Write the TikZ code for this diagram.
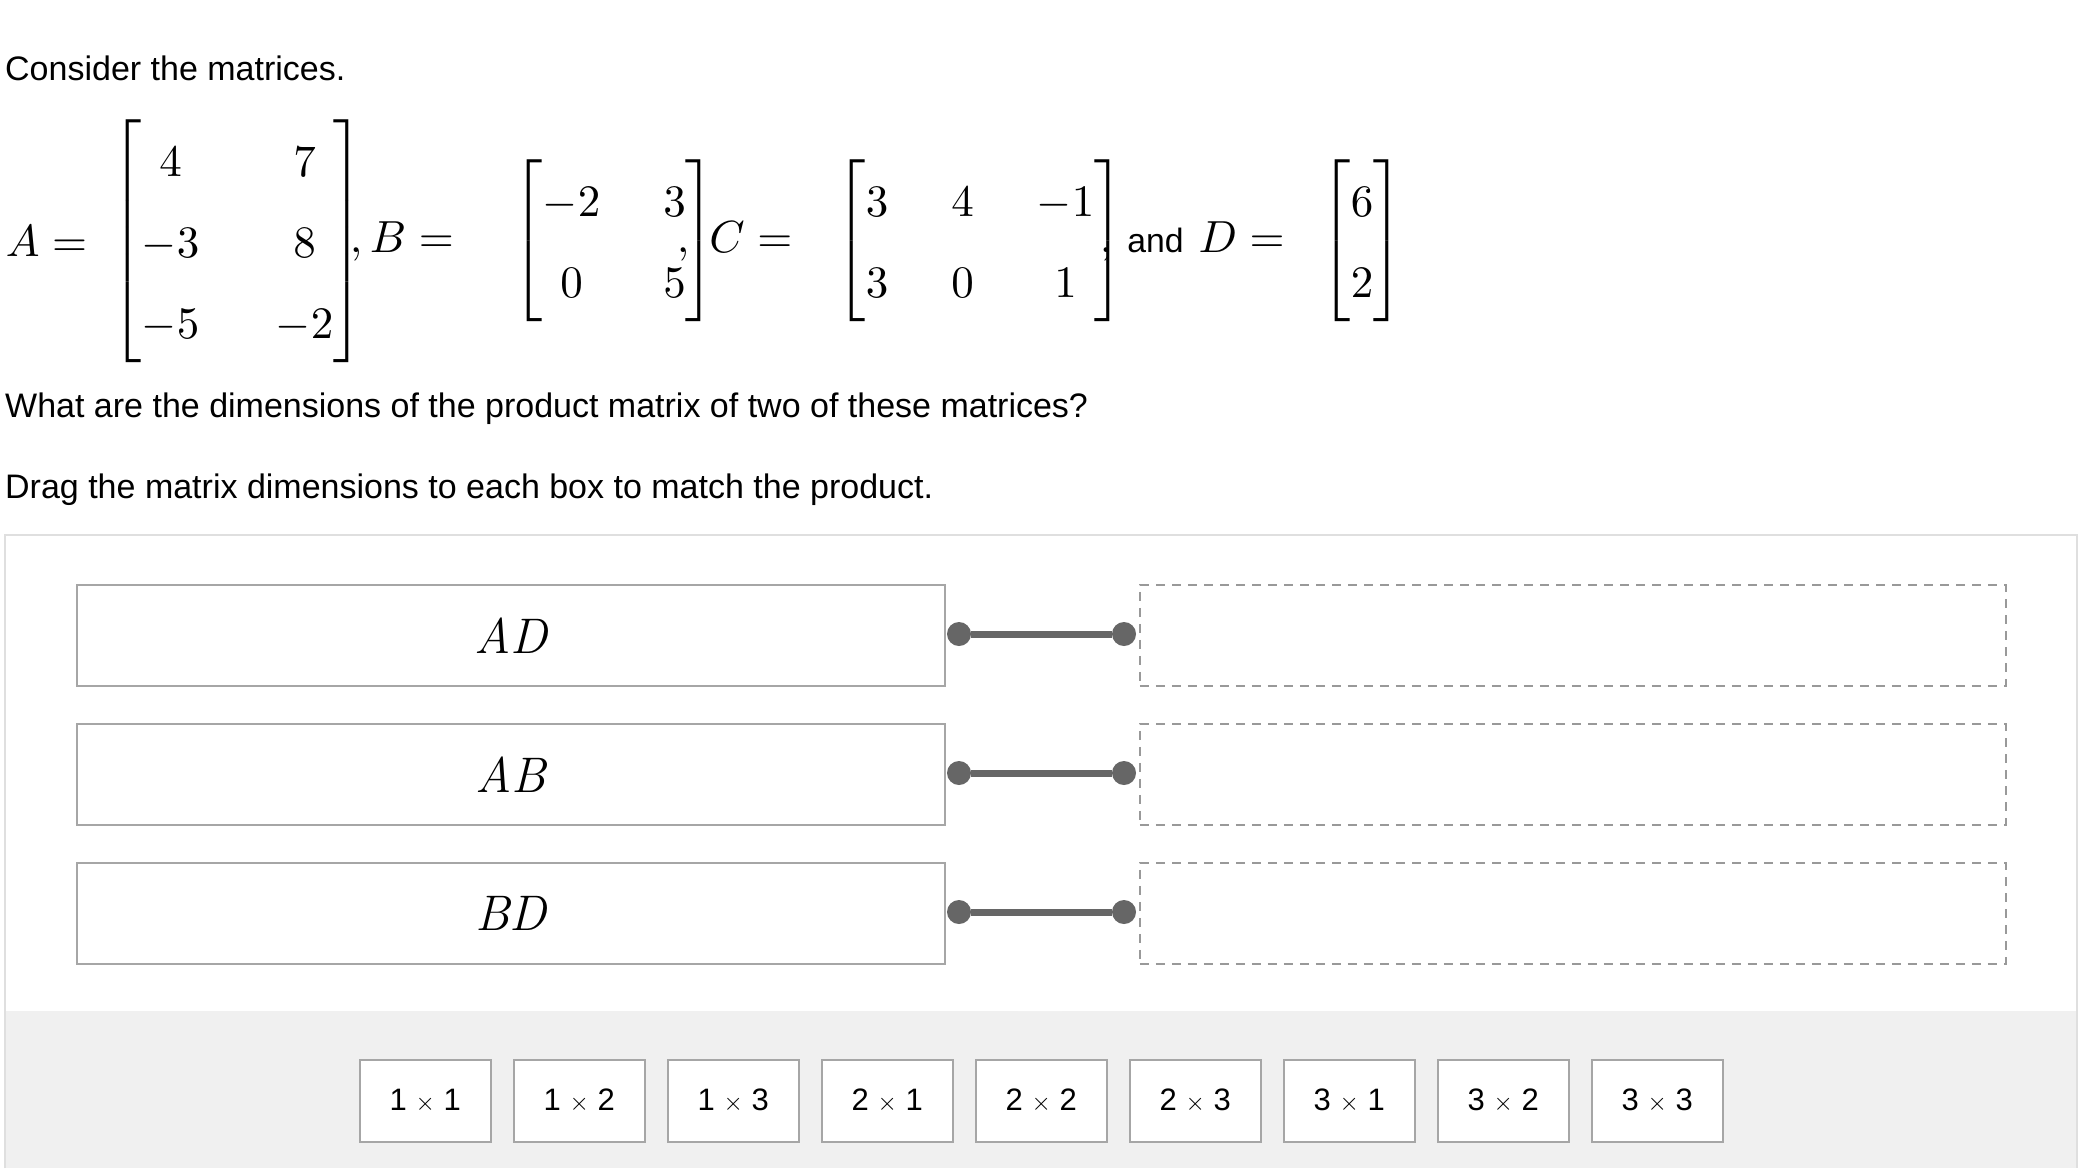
\documentclass[tikz,border=0pt]{standalone}
\usepackage{amsmath}
\usepackage{fontspec}
\setsansfont{Liberation Sans}
\begin{document}
\begin{tikzpicture}[x=1pt,y=-1pt,
  txt/.style={font=\sffamily\fontsize{34}{40}\selectfont,anchor=base west,inner sep=0},
  mx/.style={anchor=west,inner sep=0,scale=4.5,transform shape,font=\fontsize{10}{12}\selectfont},
  lbox/.style={draw=gray!70,line width=1.5pt,minimum width=868pt,minimum height=101pt,anchor=north west,font=\fontsize{50}{56}\selectfont\itshape},
  dbox/.style={draw=gray!80,dashed,dash pattern=on 9pt off 7pt,line width=1.8pt,minimum width=866pt,minimum height=101pt,anchor=north west},
  tile/.style={draw=gray!70,line width=1.5pt,fill=white,minimum width=131pt,minimum height=82pt,anchor=north west,font=\sffamily\fontsize{31}{36}\selectfont},
  conn/.style={draw=black!60,line width=7pt},
  dot/.style={circle,fill=black!60,minimum size=24pt,inner sep=0}]
\useasboundingbox (0,0) rectangle (2092,1168);
\fill[white] (0,0) rectangle (2092,1168);
\node[txt] (t1) at (5,80) {Consider the matrices.};
\renewcommand\arraystretch{1.5}
\setlength\arraycolsep{7pt}
\node[mx] (eA) at (5,241) {$A=$};
\node[mx] (mA) at (111,241) {\setlength\arraycolsep{8.5pt}$\begin{bmatrix}4&7\\-3&8\\-5&-2\end{bmatrix}$};
\node[mx] (eB) at (349,241) {$,B=$};
\node[mx] (mB) at (512,241) {$\begin{bmatrix}-2&3\\0&5\end{bmatrix}$};
\node[mx] (eC) at (676,241) {$,\;C=$};
\node[mx] (mC) at (835,241) {$\begin{bmatrix}3&4&-1\\3&0&1\end{bmatrix}$};
\node[mx] (eD) at (1099,241) {$,$ {\sffamily\fontsize{7.5}{9}\selectfont and} $D=$};
\node[mx] (mD) at (1320,241) {\setlength\arraycolsep{3pt}$\begin{bmatrix}6\\2\end{bmatrix}$};
\node[txt] (t2) at (5,417) {What are the dimensions of the product matrix of two of these matrices?};
\node[txt] (t3) at (5,498) {Drag the matrix dimensions to each box to match the product.};
\fill[gray!12] (5,1011) rectangle (2077,1168);
\draw[gray!25,line width=1.2pt] (5,1168) -- (5,535) -- (2077,535) -- (2077,1168);
\fill[white] (1018,1011) -- (1040,990) -- (1062,1011) -- cycle;
\foreach \n/\y/\l in {1/584/AD,2/723/AB,3/862/BD}{
  \node[lbox] (L\n) at (76,\y) {\l};
  \node[dbox] (R\n) at (1139,\y) {};
  \node[dot] (p\n) at (959,\y+50) {};
  \node[dot] (q\n) at (1124,\y+50) {};
  \draw[conn] (p\n) -- (q\n);
}
\foreach \i/\t in {0/1 $\times$ 1,1/1 $\times$ 2,2/1 $\times$ 3,3/2 $\times$ 1,4/2 $\times$ 2,5/2 $\times$ 3,6/3 $\times$ 1,7/3 $\times$ 2,8/3 $\times$ 3}{
  \node[tile] (b\i) at (359+154*\i,1059) {\t};
}
\end{tikzpicture}
\end{document}
